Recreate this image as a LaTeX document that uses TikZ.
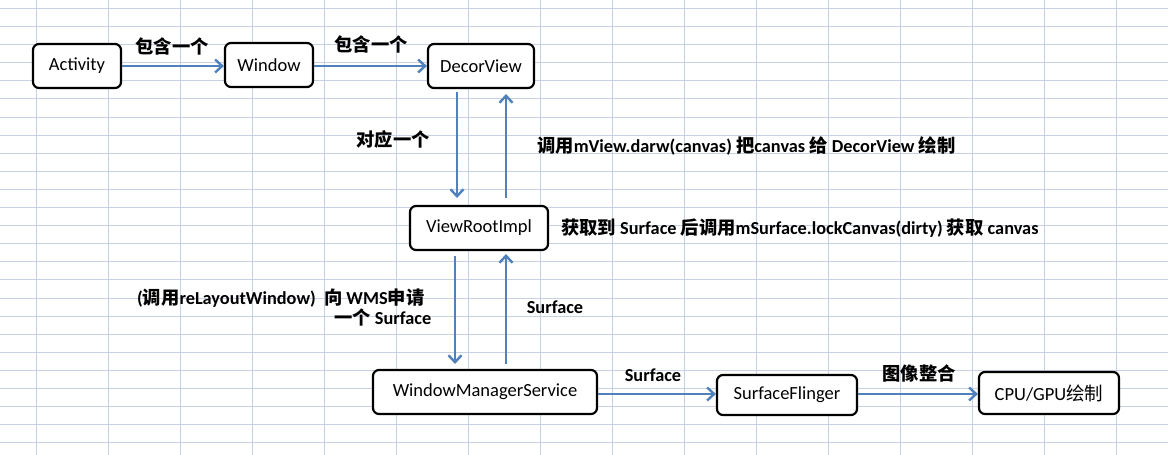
\documentclass[tikz,border=0pt]{standalone}
\usepackage{fontspec}
\setmainfont{Carlito}
\newfontfamily\cjk{Noto Sans CJK SC}
\usetikzlibrary{arrows.meta}
\definecolor{grid}{RGB}{200,208,228}
\definecolor{arr}{RGB}{79,129,189}
\tikzset{
 box/.style={draw=black,line width=2.2pt,rounded corners=6pt,fill=white,minimum height=44pt,font=\fontsize{18.5}{18.5}\selectfont,inner sep=0pt},
 con/.style={draw=arr,line width=2.4pt,-{Straight Barb[length=7pt,width=13pt,line width=2.4pt]}},
 lab/.style={font=\bfseries\fontsize{18.3}{20}\selectfont,inner sep=0pt}
}
\begin{document}
\begin{tikzpicture}[x=1pt,y=-1pt]
\fill[white] (0,0) rectangle (1168,455);
\useasboundingbox (0,0) rectangle (1168,455);
\foreach \i in {0,...,16} \draw[grid,line width=0.8pt] (36+72*\i,0) -- (36+72*\i,455);
\foreach \j in {0,...,25} \draw[grid,line width=0.8pt] (0,8.3+18.1*\j) -- (1168,8.3+18.1*\j);
\node[box,minimum width=88pt] (act) at (77,66) {Activity};
\node[box,minimum width=88pt] (win) at (269,65) {Window};
\node[box,minimum width=106pt] (dec) at (481,66) {DecorView};
\node[box,minimum width=138pt] (vri) at (479,228) {ViewRootImpl};
\node[box,minimum width=224pt] (wms) at (485,392) {WindowManagerService};
\node[box,minimum width=140pt,minimum height=40pt] (sf) at (787,395) {SurfaceFlinger};
\node[box,minimum width=140pt,minimum height=42pt] (cpu) at (1049,393) {CPU/GPU{\cjk 绘制}};
\draw[con] (act.east|-0,66) -- (win.west|-0,66);
\draw[con] (win.east|-0,66) -- (dec.west|-0,66);
\draw[con] (457,92) -- (457,198);
\draw[con] (506,198) -- (506,94);
\draw[con] (455,256) -- (455,364);
\draw[con] (506,364) -- (506,254);
\draw[con] (wms.east|-0,394) -- (sf.west|-0,394);
\draw[con] (sf.east|-0,394) -- (cpu.west|-0,394);
\node[lab] at (172,46) {\cjk 包含一个};
\node[lab] at (371,44) {\cjk 包含一个};
\node[lab] at (393,140) {\cjk 对应一个};
\node[lab,anchor=west] at (537,146) {{\cjk 调用}mView.darw(canvas) {\cjk 把}canvas {\cjk 给} DecorView {\cjk 绘制}};
\node[lab,anchor=west] at (561,228) {{\cjk 获取到} Surface {\cjk 后调用}mSurface.lockCanvas(dirty) {\cjk 获取} canvas};
\node[lab,anchor=west] at (137,298) {({\cjk 调用}reLayoutWindow)\ \ {\cjk 向} WMS{\cjk 申请}};
\node[lab,anchor=west] at (334,318) {{\cjk 一个} Surface};
\node[lab] at (555,307) {Surface};
\node[lab] at (653,375) {Surface};
\node[lab] at (919,374) {\cjk 图像整合};
\end{tikzpicture}
\end{document}
